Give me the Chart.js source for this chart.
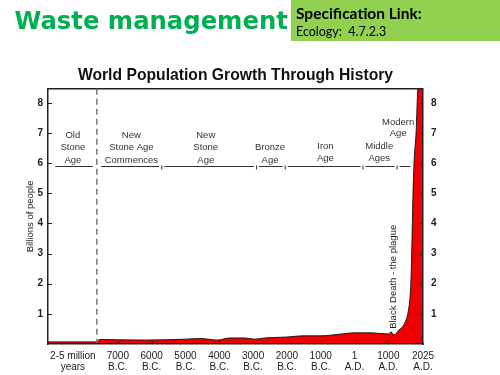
<!DOCTYPE html>
<html>
<head>
<meta charset="utf-8">
<script src="https://cdn.jsdelivr.net/npm/chart.js@4.4.1/dist/chart.umd.min.js"></script>
<style>
  body { margin: 0; background: #fff; }
  #wrap { position: relative; width: 500px; height: 375px; overflow: hidden; }
  #chart { position: absolute; left: 0; top: 0; }
  .heading { position: absolute; left: 14.5px; top: 9px; margin: 0; font: bold 24.3px/24px 'DejaVu Sans', sans-serif; color: #00b050; white-space: nowrap; }
  .spec { position: absolute; left: 291px; top: 0; width: 209px; height: 41px; background: #92d050; }
  .spec div { position: absolute; left: 5px; white-space: nowrap; color: #000; font-family: Lato, 'Liberation Sans', sans-serif; }
  .spec .l1 { top: 5px; font-size: 15.5px; line-height: 16px; font-weight: bold; }
  .spec .l2 { top: 24.5px; font-size: 12.5px; line-height: 13px; }
</style>
</head>
<body>
<div id="wrap">
  <canvas id="chart" width="500" height="375"></canvas>
  <h1 class="heading">Waste management</h1>
  <div class="spec">
    <div class="l1">Specification Link:</div>
    <div class="l2">Ecology:&nbsp; 4.7.2.3</div>
  </div>
</div>
<script>
// population through history (billions)
const years = [-9065, -7650, -7530, -7000, -6150, -5000, -4550, -4050, -3700, -3250, -2950, -2650, -2000, -1550, -1000, -470, 1, 500, 1000, 1080, 1170, 1320, 1440, 1525, 1585, 1645, 1675, 1700, 1730, 1760, 1820, 1880, 2025];
const population = [0.07, 0.07, 0.15, 0.14, 0.13, 0.16, 0.18, 0.13, 0.2, 0.2, 0.16, 0.2, 0.23, 0.27, 0.27, 0.32, 0.37, 0.37, 0.33, 0.4, 0.3, 0.47, 0.6, 0.8, 1.06, 1.6, 2.3, 3.45, 5.0, 6.0, 7.0, 8.5, 8.5];

const xTickYears = [-8330, -7000, -6000, -5000, -4000, -3000, -2000, -1000, 1, 1000, 2025];
const xTickLabels = [['2-5 million', 'years'], ['7000', 'B.C.'], ['6000', 'B.C.'], ['5000', 'B.C.'], ['4000', 'B.C.'], ['3000', 'B.C.'], ['2000', 'B.C.'], ['1000', 'B.C.'], ['1', 'A.D.'], ['1000', 'A.D.'], ['2025', 'A.D.']];
const yTicks = [1, 2, 3, 4, 5, 6, 7, 8];

const periodLabels = [['Old', 'Stone', 'Age'], ['New', 'Stone Age', 'Commences'], ['New', 'Stone', 'Age'], ['Bronze', 'Age'], ['Iron', 'Age'], ['Middle', 'Ages'], ['Modern', 'Age']];
const periodYears = [-8330, -6600, -4400, -2500, -860, 730, 1290];
const periodLevels = [6.1, 6.1, 6.1, 6.1, 6.15, 6.15, 6.98];
const periodBounds = [-5700, -2900, -2050, 250, 1260];
const bandLevel = 5.92;
const bandFrom = -8850;
const bandTo = 1650;
const farmingStart = -7620;
const plague = { year: 1142, level: 2.23, text: 'Black Death - the plague' };

const FONT = "'Liberation Sans', Arial, sans-serif";
Chart.defaults.font.family = FONT;

const axisBorder = { display: true, color: '#222', width: 1.5, z: 1 };

const overlay = {
  id: 'overlay',
  afterDatasetsDraw(chart) {
    const { ctx, chartArea: a, scales: { x, y } } = chart;
    const seg = (x1, y1, x2, y2) => { ctx.beginPath(); ctx.moveTo(x1, y1); ctx.lineTo(x2, y2); ctx.stroke(); };
    ctx.save();
    ctx.strokeStyle = '#222';
    ctx.lineWidth = 1.5;
    seg(a.left, a.top, a.right, a.top);

    // tick marks pointing inward
    ctx.lineWidth = 1;
    yTicks.forEach(v => {
      const py = Math.round(y.getPixelForValue(v)) + 0.5;
      seg(a.left, py, a.left + 4, py);
      seg(a.right - 3, py, a.right, py);
    });
    xTickYears.slice(1, -1).forEach(v => {
      const px = Math.round(x.getPixelForValue(v)) + 0.5;
      seg(px, a.bottom, px, a.bottom - 3);
    });

    // start of farming
    const dx = x.getPixelForValue(farmingStart);
    ctx.strokeStyle = '#777';
    ctx.lineWidth = 1.5;
    ctx.setLineDash([6, 4]);
    seg(dx, a.top, dx, a.bottom);
    ctx.setLineDash([]);

    // period band
    const by = Math.round(y.getPixelForValue(bandLevel)) + 0.5;
    ctx.strokeStyle = '#333';
    ctx.lineWidth = 1;
    seg(x.getPixelForValue(bandFrom), by, dx - 4, by);
    let start = dx + 4;
    periodBounds.forEach(b => {
      const bx = x.getPixelForValue(b);
      seg(start, by, bx - 2.5, by);
      seg(bx, by - 1, bx, by + 3);
      start = bx + 2.5;
    });
    seg(start, by, x.getPixelForValue(bandTo), by);

    ctx.fillStyle = '#333';
    ctx.textAlign = 'center';
    ctx.textBaseline = 'middle';
    ctx.font = '9.5px ' + FONT;
    periodLabels.forEach((lines, i) => {
      const px = x.getPixelForValue(periodYears[i]);
      const py = y.getPixelForValue(periodLevels[i]);
      const lh = i === periodLabels.length - 1 ? 11 : 12.5;
      lines.forEach((t, j) => ctx.fillText(t, px, py - (lines.length - 1 - j) * lh));
    });

    ctx.translate(x.getPixelForValue(plague.year), y.getPixelForValue(plague.level));
    ctx.rotate(-Math.PI / 2);
    ctx.fillStyle = '#222';
    ctx.fillText(plague.text, 0, 0);
    ctx.restore();
  }
};

new Chart(document.getElementById('chart'), {
  type: 'line',
  data: {
    datasets: [{
      data: years.map((yr, i) => ({ x: yr, y: population[i] })),
      fill: 'origin',
      backgroundColor: '#ee0000',
      borderColor: '#1a1a1a',
      borderWidth: 1,
      pointRadius: 0,
      cubicInterpolationMode: 'monotone'
    }]
  },
  options: {
    responsive: false,
    animation: false,
    devicePixelRatio: 1,
    layout: { padding: 0 },
    plugins: {
      legend: { display: false },
      tooltip: { enabled: false },
      title: {
        display: true,
        text: 'World Population Growth Through History',
        fullSize: false,
        color: '#111',
        font: { size: 15.7, weight: 'bold' },
        padding: { top: 66, bottom: 4 }
      }
    },
    scales: {
      x: {
        type: 'linear',
        min: -9065,
        max: 2025,
        afterFit(s) { s.height = 31; },
        afterBuildTicks(s) { s.ticks = xTickYears.map(v => ({ value: v })); },
        grid: { display: false, drawTicks: false },
        border: axisBorder,
        ticks: {
          autoSkip: false,
          maxRotation: 0,
          padding: 6.5,
          color: '#222',
          font: { size: 10, lineHeight: 1.1 },
          callback: (v, i) => xTickLabels[i]
        }
      },
      y: {
        position: 'left',
        min: 0,
        max: 8.47,
        afterFit(s) { s.width = 48; },
        afterBuildTicks(s) { s.ticks = yTicks.map(v => ({ value: v })); },
        grid: { display: false, drawTicks: false },
        border: axisBorder,
        ticks: { padding: 5, color: '#222', font: { size: 10, weight: 'bold' } },
        title: { display: true, text: 'Billions of people', color: '#222', font: { size: 9.5 }, padding: { top: 24.3, bottom: 0 } }
      },
      y2: {
        position: 'right',
        min: 0,
        max: 8.47,
        afterFit(s) { s.width = 77; },
        afterBuildTicks(s) { s.ticks = yTicks.map(v => ({ value: v })); },
        grid: { display: false, drawTicks: false },
        border: axisBorder,
        ticks: { padding: 8, color: '#222', font: { size: 10, weight: 'bold' } }
      }
    }
  },
  plugins: [overlay]
});
</script>
</body>
</html>
